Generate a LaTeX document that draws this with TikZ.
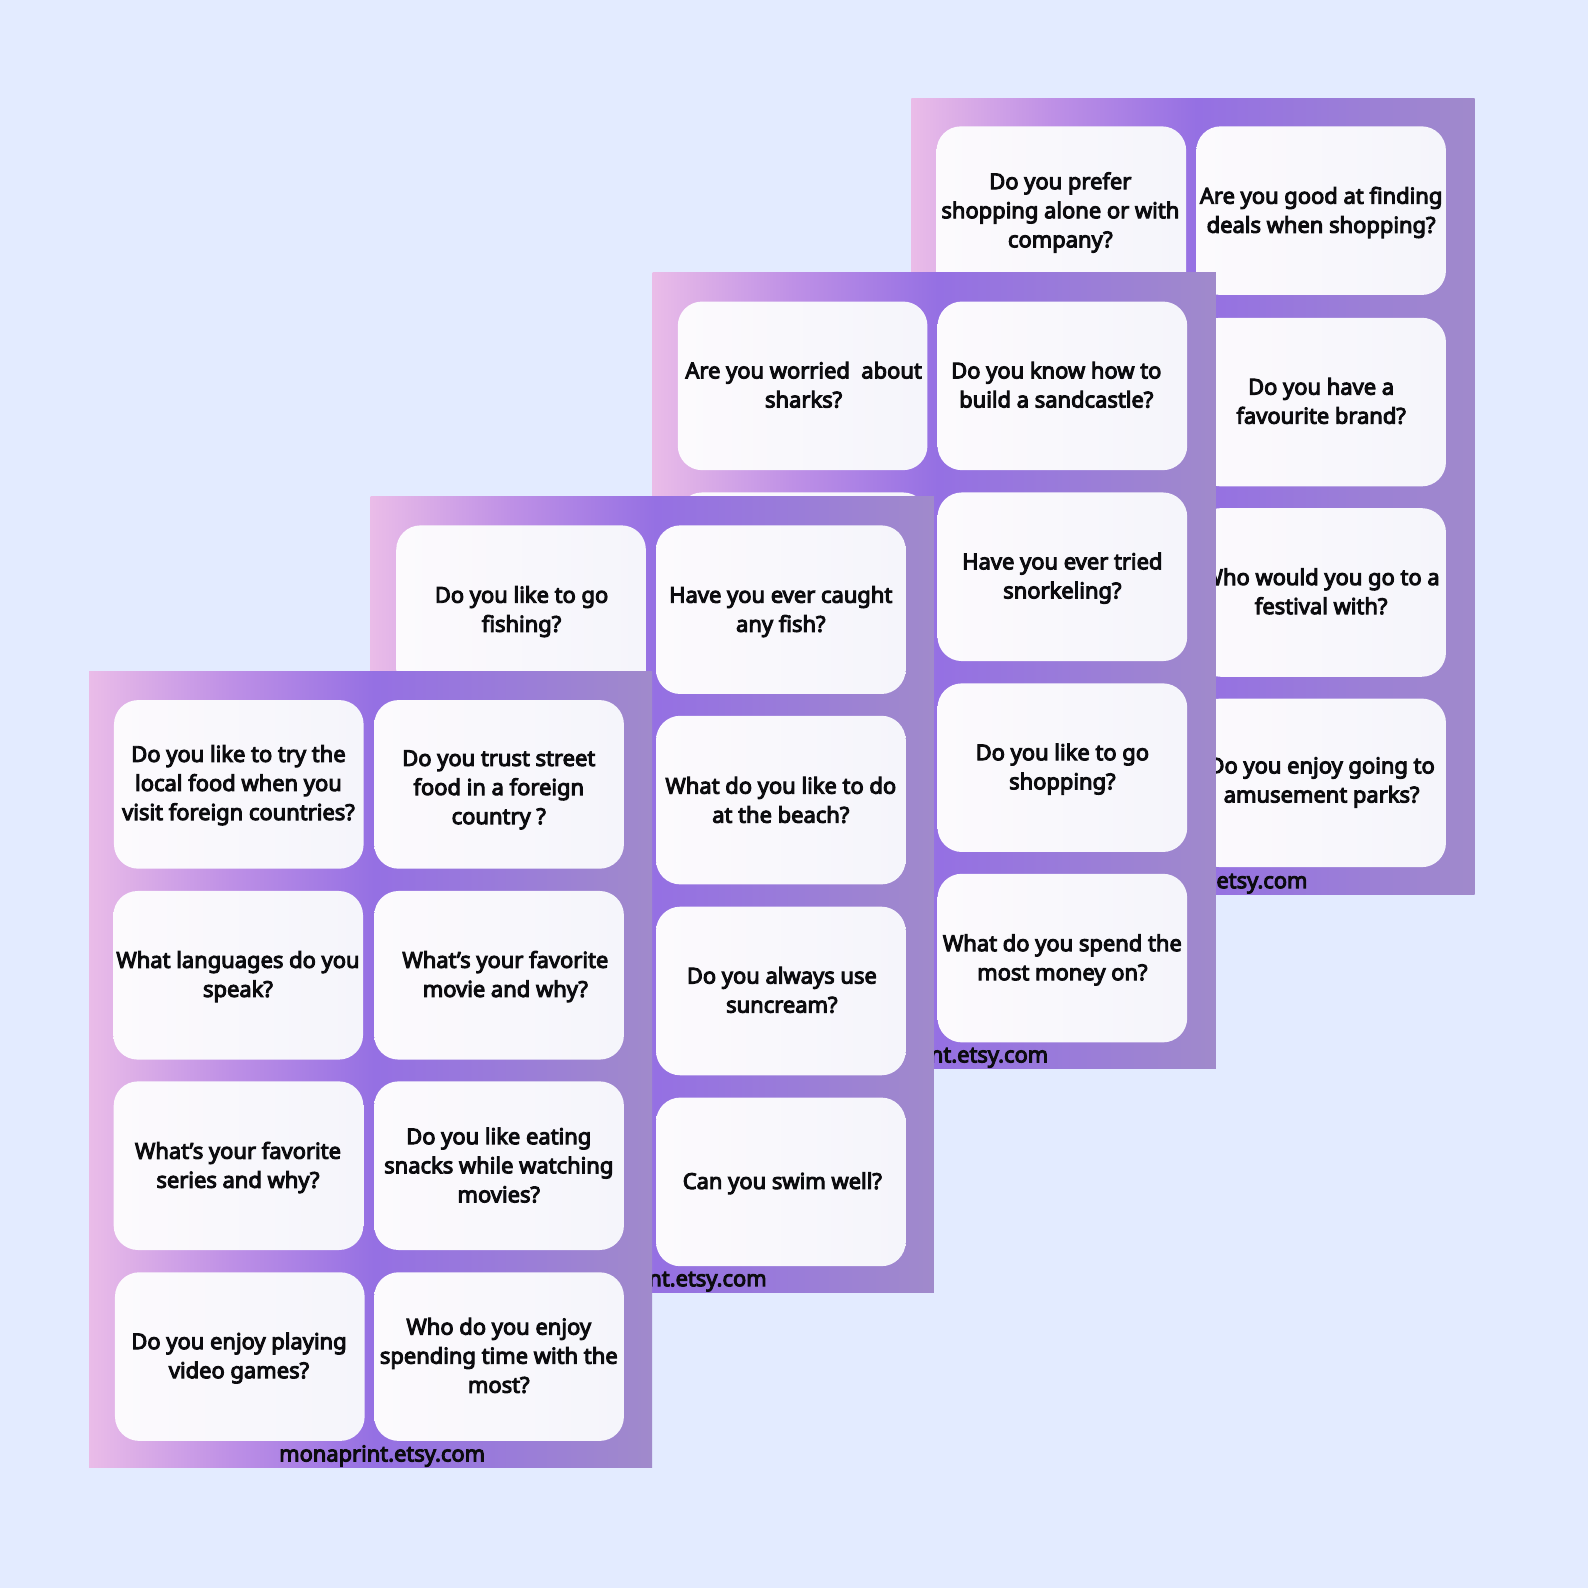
\documentclass[tikz,border=0pt]{standalone}
\usepackage{fontspec}
\setmainfont{Noto Sans}
\newfontfamily\heavyfont{Noto Sans}[FakeBold=4.5]
\definecolor{bgblue}{HTML}{E3EBFF}
\definecolor{gA}{HTML}{EABCE8}
\definecolor{gB}{HTML}{BE90E6}
\definecolor{gC}{HTML}{9570E3}
\definecolor{gD}{HTML}{9A7CD9}
\definecolor{gE}{HTML}{A08ACB}
\definecolor{cardL}{HTML}{FCFAFD}
\definecolor{cardR}{HTML}{F5F5FB}
\definecolor{inkk}{HTML}{0C0C0F}
\pgfdeclarehorizontalshading{sheetgrad}{100bp}{color(0bp)=(gA); color(25bp)=(gA); color(37.5bp)=(gB); color(50.3bp)=(gC); color(62.5bp)=(gD); color(75bp)=(gE); color(100bp)=(gE)}
\tikzset{
  sheetbox/.style={rectangle,anchor=north west,inner sep=0pt,outer sep=0pt,minimum width=556pt,minimum height=786pt,shading=sheetgrad},
  cardbox/.style={rectangle,inner sep=0pt,outer sep=0pt,minimum width=246.5pt,minimum height=166.5pt,rounded corners=24pt,left color=cardL,right color=cardR},
  cardtext/.style={inner sep=0pt,outer sep=0pt,align=center,text=inkk,font=\heavyfont\fontsize{21.65pt}{28.7pt}\selectfont},
  sitetext/.style={inner sep=0pt,outer sep=0pt,text=inkk,font=\heavyfont\fontsize{21.6pt}{26pt}\selectfont}
}
\newcommand{\st}{\rule[-6pt]{0pt}{26pt}}
\newcommand{\cardat}[6]{%
  \node[cardbox] (c#1) at (#2,#3) {};
  \node[cardtext] (t#1) at (#4,#5) {\st #6\st};
}
\newcommand{\sheetat}[3]{\node[sheetbox] (#1) at (#2,#3) {};}
\begin{document}
\begin{tikzpicture}[x=1pt,y=-1pt]
\useasboundingbox (0,0) rectangle (1568,1568);
\fill[bgblue] (0,0) rectangle (1568,1568);
% sheet 4
\sheetat{sD}{900}{97}
\cardat{D1}{1048}{208}{1047}{208.5}{Do you prefer\\shopping alone or with\\company?}
\cardat{D2}{1304.5}{208}{1304.5}{208.5}{Are you good at finding\\deals when shopping?}
\cardat{D3}{1304.5}{397}{1304.5}{397}{Do you have a\\favourite brand?}
\cardat{D4}{1304.5}{585}{1304.5}{585}{Who would you go to a\\festival with?}
\cardat{D5}{1304.5}{773}{1305}{771}{Do you enjoy going to\\amusement parks?}
\node[sitetext,anchor=base east] (fD) at (1291,877) {monaprint.etsy.com};
% sheet 3
\sheetat{sC}{644.5}{269.5}
\cardat{C1}{792.5}{381}{793.5}{381}{Are you worried \ about\\sharks?}
\cardat{C2}{1049}{381}{1043}{381}{Do you know how to\\build a sandcastle?}
\node[cardbox] (cC3) at (792.5,569.5) {};
\cardat{C4}{1049}{569.5}{1049}{569.5}{Have you ever tried\\snorkeling?}
\cardat{C5}{1049}{758}{1049}{758}{Do you like to go\\shopping?}
\cardat{C6}{1049}{946}{1049}{946.5}{What do you spend the\\most money on?}
\node[sitetext,anchor=base east] (fC) at (1035,1049) {monaprint.etsy.com};
% sheet 2
\sheetat{sB}{366}{490}
\cardat{B1}{514.5}{602}{515}{602.5}{Do you like to go\\fishing?}
\cardat{B2}{771}{602}{771}{602.5}{Have you ever caught\\any fish?}
\cardat{B3}{771}{790}{771}{791}{What do you like to do\\at the beach?}
\cardat{B4}{771}{978.5}{772}{978.5}{Do you always use\\suncream?}
\cardat{B5}{771}{1167}{772.5}{1167}{Can you swim well?}
\node[sitetext,anchor=base east] (fB) at (757,1270) {monaprint.etsy.com};
% sheet 1
\sheetat{sA}{88}{663}
\cardat{A1}{235.8}{774.5}{235.5}{774}{Do you like to try the\\local food when you\\visit foreign countries?}
\cardat{A2}{492.8}{774.5}{492.5}{778}{Do you trust street\\food in a foreign\\country ?}
\cardat{A3}{235.2}{963}{235}{963}{What languages do you\\speak?}
\cardat{A4}{492.8}{963}{499}{963}{What’s your favorite\\movie and why?}
\cardat{A5}{235.5}{1151}{235}{1151.5}{What’s your favorite\\series and why?}
\cardat{A6}{492.8}{1151}{492.5}{1151.5}{Do you like eating\\snacks while watching\\movies?}
\cardat{A7}{236.8}{1339.5}{236}{1339.5}{Do you enjoy playing\\video games?}
\cardat{A8}{492.8}{1339.5}{492.5}{1339.5}{Who do you enjoy\\spending time with the\\most?}
\node[sitetext,anchor=base east] (fA) at (479,1443) {monaprint.etsy.com};
\end{tikzpicture}
\end{document}
